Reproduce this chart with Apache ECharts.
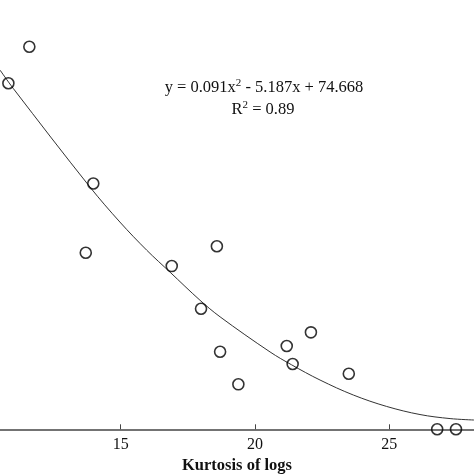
<!DOCTYPE html>
<html>
<head>
<meta charset="utf-8">
<script src="https://cdn.jsdelivr.net/npm/echarts@6/dist/echarts.min.js"></script>
<style>
  html, body { margin: 0; padding: 0; background: #fff; }
  #chart { width: 474px; height: 474px; }
</style>
</head>
<body>
<div id="chart"></div>
<script>
// observed points (kurtosis of logs, y)
var kurtosis = [11.60, 10.82, 13.98, 13.70, 18.58, 16.90, 17.99, 18.70, 19.38, 21.18, 21.40, 22.08, 23.49, 26.78, 27.48];
var yValues = [32.15, 29.08, 20.66, 14.84, 15.38, 13.72, 10.13, 6.52, 3.78, 7.00, 5.49, 8.15, 4.67, 0, 0];

// fitted curve
var fitX = [10.51, 11.00, 13.86, 14.97, 15.97, 16.84, 17.95, 18.70, 20.56, 21.36, 22.42, 23.66, 24.90, 26.14, 27.26, 28.15];
var fitY = [30.19, 28.65, 20.35, 17.42, 15.05, 13.20, 10.85, 9.45, 6.50, 5.42, 4.14, 2.88, 1.92, 1.24, 0.90, 0.78];

var xTicks = [15, 20, 25];
var xRange = [10.508, 28.15];
var yRange = [0, 36.08];
var equationText = "y = 0.091x{s|2} - 5.187x + 74.668";
var r2Text = "R{s|2} = 0.89";

var points = kurtosis.map(function (x, i) { return [x, yValues[i]]; });
var curve = fitX.map(function (x, i) { return [x, fitY[i]]; });

var chart = echarts.init(document.getElementById("chart"));
var serif = "Liberation Serif";
var supStyle = { fontSize: 11, fontFamily: serif, fill: "#111", padding: [0, 0, 9, 0] };

chart.setOption({
    animation: false,
    grid: { left: 0, right: 0, top: 0, bottom: 44.7, containLabel: false, outerBoundsMode: "none" },
    xAxis: {
        type: "value",
        min: xRange[0],
        max: xRange[1],
        name: "Kurtosis of logs",
        nameLocation: "middle",
        nameGap: 26,
        nameTextStyle: { fontFamily: serif, fontWeight: "bold", fontSize: 16.5, color: "#111" },
        axisLine: { show: true, lineStyle: { color: "#444", width: 1.5 } },
        axisTick: { show: true, inside: true, length: 5, customValues: xTicks, lineStyle: { color: "#444", width: 1 } },
        axisLabel: { fontFamily: serif, fontSize: 16, color: "#111", margin: 7, customValues: xTicks },
        splitLine: { show: false }
    },
    yAxis: {
        type: "value",
        min: yRange[0],
        max: yRange[1],
        show: false
    },
    graphic: [
        {
            type: "text",
            style: {
                x: 264, y: 88,
                text: equationText,
                textAlign: "center",
                textVerticalAlign: "middle",
                fontFamily: serif,
                fontSize: 16.5,
                fill: "#111",
                rich: { s: supStyle }
            }
        },
        {
            type: "text",
            style: {
                x: 263, y: 110,
                text: r2Text,
                textAlign: "center",
                textVerticalAlign: "middle",
                fontFamily: serif,
                fontSize: 16.5,
                fill: "#111",
                rich: { s: supStyle }
            }
        }
    ],
    series: [
        {
            type: "line",
            data: curve,
            smooth: 0.35,
            showSymbol: false,
            lineStyle: { color: "#333", width: 1 },
            z: 1
        },
        {
            type: "scatter",
            data: points,
            symbol: "circle",
            symbolSize: 11,
            itemStyle: { color: "rgba(255,255,255,0)", borderColor: "#000", borderWidth: 1.6 },
            z: 2
        }
    ]
});
</script>
</body>
</html>
